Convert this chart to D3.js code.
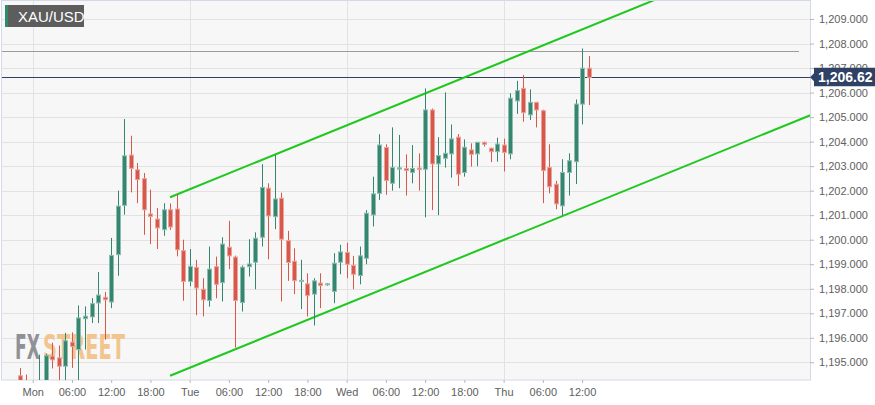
<!DOCTYPE html>
<html><head><meta charset="utf-8">
<script src="https://cdn.jsdelivr.net/npm/d3@7"></script>
<style>
body{margin:0;background:#fff;}
svg{display:block;font-family:Arial,"Liberation Sans",sans-serif;}
</style>
</head><body>
<svg id="chart" width="875" height="405"></svg>
<script>
// ---------- DATA (hours from Monday 00:00, hourly OHLC) ----------
const symbol = "XAU/USD";
const hours  = [-2,-1,1,2,3,4,5,6,7,8,9,10,11,12,13,14,15,16,17,18,19,20,21,22,23,24,25,26,27,28,29,30,31,32,33,34,35,36,37,38,39,40,41,42,43,44,45,46,47,48,49,50,51,52,53,54,55,56,57,58,59,60,61,62,63,64,65,66,67,68,69,70,71,72,73,74,75,76,77,78,79,80,81,82,83,84,85];
const opens  = [1194.45,1194.2,1193.8,1194.0,1195.25,1195.18,1194.84,1195.82,1195.52,1196.78,1196.85,1197.42,1197.65,1197.46,1199.39,1201.4,1203.45,1202.85,1202.49,1201.05,1200.84,1200.41,1201.22,1201.25,1199.55,1198.3,1198.87,1197.98,1197.52,1198.9,1198.25,1199.69,1199.29,1197.44,1198.9,1199.08,1200.1,1202.1,1200.94,1201.69,1199.96,1199.12,1198.3,1198.2,1197.78,1198.23,1198.17,1197.89,1199.08,1199.48,1198.95,1198.54,1199.24,1201.01,1201.89,1203.76,1202.3,1202.88,1202.9,1202.74,1202.92,1202.87,1205.29,1203.09,1203.32,1203.5,1204.18,1202.74,1203.66,1203.5,1203.97,1203.73,1203.59,1203.86,1203.5,1205.66,1206.17,1205.09,1205.6,1205.26,1202.94,1202.26,1201.38,1202.74,1203.18,1205.53,1206.99];
const highs  = [1194.77,1194.5,1195.31,1195.35,1195.8,1195.69,1196.2,1196.22,1197.32,1197.28,1197.62,1198.68,1197.87,1200.07,1202.0,1204.92,1204.24,1203.13,1202.72,1202.04,1201.29,1201.49,1201.48,1201.83,1200.0,1199.62,1199.18,1198.43,1199.72,1199.31,1200.1,1200.77,1199.35,1198.95,1200.02,1200.3,1203.08,1202.3,1203.46,1201.92,1200.36,1199.65,1199.18,1198.63,1198.43,1198.63,1198.23,1199.45,1199.79,1199.88,1199.34,1199.72,1201.21,1202.57,1204.3,1203.89,1204.58,1204.27,1203.48,1203.86,1203.52,1206.17,1205.35,1204.18,1206.01,1204.7,1204.31,1204.09,1203.93,1203.99,1204.0,1203.75,1204.16,1204.12,1205.97,1206.48,1206.72,1206.13,1205.62,1205.3,1203.89,1202.4,1203.28,1203.52,1205.72,1207.8,1207.49];
const lows   = [1193.9,1193.6,1193.5,1193.9,1194.75,1194.1,1194.1,1194.77,1194.1,1195.52,1196.6,1196.6,1195.92,1197.21,1198.53,1201.02,1201.93,1201.49,1200.2,1199.82,1199.62,1200.16,1200.4,1199.32,1197.51,1198.1,1196.92,1196.87,1197.27,1197.61,1197.48,1198.8,1195.6,1197.07,1198.5,1197.98,1199.72,1199.2,1200.43,1197.48,1198.32,1197.78,1197.17,1196.87,1196.5,1197.21,1198.12,1197.41,1198.59,1198.43,1197.98,1198.18,1199.0,1200.54,1201.62,1201.83,1202.0,1202.1,1201.8,1202.3,1202.0,1200.91,1201.21,1201.0,1202.94,1202.53,1202.19,1202.57,1202.98,1203.0,1203.8,1203.16,1203.18,1202.78,1203.28,1205.13,1204.81,1204.88,1204.58,1201.49,1201.89,1201.24,1200.98,1201.8,1202.27,1204.7,1205.49];
const closes = [1194.1,1193.9,1194.2,1195.27,1195.1,1194.84,1195.88,1195.65,1196.81,1196.88,1197.39,1197.74,1197.55,1199.36,1201.37,1203.42,1202.91,1202.45,1201.22,1200.95,1200.48,1201.22,1200.52,1199.59,1198.3,1198.91,1198.03,1197.55,1198.8,1198.18,1199.82,1199.34,1197.52,1198.88,1199.01,1200.06,1202.13,1200.97,1201.66,1200.02,1199.07,1198.33,1198.34,1197.72,1198.32,1198.13,1198.2,1199.04,1199.5,1199.0,1198.59,1199.34,1201.08,1201.87,1203.86,1202.41,1202.94,1202.93,1202.82,1202.9,1202.86,1205.29,1203.09,1203.43,1203.52,1204.11,1202.67,1203.77,1203.48,1203.97,1203.89,1203.59,1203.9,1203.56,1205.77,1206.08,1205.18,1205.6,1205.29,1202.82,1202.16,1201.46,1202.74,1203.22,1205.53,1206.99,1206.62];

// trend channel: [startHour, startPrice, endHour, endPrice]
const upperTrend = [21, 1201.73, 100, 1210.31];
const lowerTrend = [21, 1194.45, 125, 1205.74];
const lastPrice = 1206.62;
const sessionHigh = 1207.68;

const xTickHours  = [0,6,12,18,24,30,36,42,48,54,60,66,72,78,84];
const xTickLabels = ["Mon","06:00","12:00","18:00","Tue","06:00","12:00","18:00","Wed","06:00","12:00","18:00","Thu","06:00","12:00"];
const yTicks = [1195,1196,1197,1198,1199,1200,1201,1202,1203,1204,1205,1206,1207,1208,1209];
const dayStartHours = [0,24,48,72];

// ---------- LAYOUT ----------
const base = Date.UTC(2018, 11, 3); // a Monday
const toDate = h => new Date(base + h * 3600e3);
const L = 1, R = 810, T = 1, B = 380;

const svg = d3.select("#chart");
const x = d3.scaleUtc().domain([toDate(-4.85), toDate(118.85)]).range([L, R]);
const y = d3.scaleLinear().domain([1194.278, 1209.734]).range([B, T]);

const TEAL = "#34866f", RED = "#d7584a";

svg.append("rect").attr("width", 875).attr("height", 405).attr("fill", "#fff");
svg.append("rect").attr("x", L + 0.5).attr("y", T - 0.5).attr("width", R - L).attr("height", B - T + 0.5)
  .attr("fill", "#f7f7f7").attr("stroke", "#d3d9e8").attr("stroke-width", 1);

svg.append("defs").append("clipPath").attr("id", "plot")
  .append("rect").attr("x", L + 1).attr("y", T).attr("width", R - L - 1).attr("height", B - T);

const g = svg.append("g").attr("clip-path", "url(#plot)");

// grid
g.selectAll(".hg").data(yTicks).join("line")
  .attr("x1", L).attr("x2", R)
  .attr("y1", d => Math.round(y(d)) + 0.5).attr("y2", d => Math.round(y(d)) + 0.5)
  .attr("stroke", "#e2e2e2");
g.selectAll(".vg").data(dayStartHours).join("line")
  .attr("x1", d => Math.round(x(toDate(d))) + 0.5).attr("x2", d => Math.round(x(toDate(d))) + 0.5)
  .attr("y1", T).attr("y2", B).attr("stroke", "#e2e2e2");

// watermark: each part scaled to its measured width
const wmFont = "'Liberation Sans Narrow','Arial Narrow','DejaVu Sans Condensed',sans-serif";
[["FX", 15, 25, "#8f9197"], ["STREET", 43, 82, "#f3c58e"]].forEach(([txt, x0, w, col]) => {
  const t = g.append("text").attr("font-family", wmFont).attr("font-weight", "bold")
    .attr("font-size", 25).attr("fill", col).text(txt);
  const nat = t.node().getComputedTextLength() || w;
  t.attr("transform", `translate(${x0},359) scale(${w / nat},1.38)`);
});

// session high line and last price line
g.append("line").attr("x1", L + 1).attr("x2", 799)
  .attr("y1", Math.round(y(sessionHigh)) + 0.5).attr("y2", Math.round(y(sessionHigh)) + 0.5)
  .attr("stroke", "#9c9c9c");
g.append("line").attr("x1", L).attr("x2", R)
  .attr("y1", Math.round(y(lastPrice)) + 0.5).attr("y2", Math.round(y(lastPrice)) + 0.5)
  .attr("stroke", "#2f4165").attr("stroke-width", 1.2);

// trend channel
[upperTrend, lowerTrend].forEach(t => {
  g.append("line")
    .attr("x1", x(toDate(t[0]))).attr("y1", y(t[1]))
    .attr("x2", x(toDate(t[2]))).attr("y2", y(t[3]))
    .attr("stroke", "#1ec81e").attr("stroke-width", 2);
});

// candles
const candles = hours.map((h, i) => ({h, o: opens[i], hi: highs[i], lo: lows[i], c: closes[i]}));
const cg = g.selectAll(".candle").data(candles).join("g");
cg.append("line")
  .attr("x1", d => Math.round(x(toDate(d.h))) + 0.5)
  .attr("x2", d => Math.round(x(toDate(d.h))) + 0.5)
  .attr("y1", d => y(d.hi)).attr("y2", d => y(d.lo))
  .attr("stroke", d => d.c >= d.o ? TEAL : RED).attr("stroke-width", 1);
cg.append("rect")
  .attr("x", d => Math.round(x(toDate(d.h))) - 1.5)
  .attr("width", 4)
  .attr("y", d => y(Math.max(d.o, d.c)))
  .attr("height", d => Math.max(1, Math.abs(y(d.o) - y(d.c))))
  .attr("fill", d => d.c >= d.o ? TEAL : RED)
  .attr("stroke", d => d3.interpolateRgb(d.c >= d.o ? TEAL : RED, "#ffffff")(0.45))
  .attr("stroke-width", 1);

// y axis (right)
const yAxis = svg.append("g").attr("transform", `translate(${R},0)`)
  .call(d3.axisRight(y).tickValues(yTicks).tickFormat(d3.format(",.3f")).tickSize(4).tickPadding(5));
yAxis.select(".domain").remove();
yAxis.selectAll(".tick line").attr("stroke", "#b8b8b8");
yAxis.selectAll("text").attr("fill", "#606060").attr("font-size", 11).attr("font-family", "Arial,'Liberation Sans',sans-serif");

// x axis
const xAxis = svg.append("g").attr("transform", `translate(0,${B})`)
  .call(d3.axisBottom(x).tickValues(xTickHours.map(toDate))
    .tickFormat((d, i) => xTickLabels[i]).tickSize(3).tickPadding(5));
xAxis.select(".domain").remove();
xAxis.selectAll(".tick line").attr("stroke", "#b8b8b8");
xAxis.selectAll("text").attr("fill", "#606060").attr("font-size", 11).attr("font-family", "Arial,'Liberation Sans',sans-serif");

// last price label (covers the 1,207.000 tick label, as in the reference)
const ly = y(lastPrice);
svg.append("path")
  .attr("d", `M${R},${ly} L${R + 4},${ly - 4} L${R + 4},${ly - 9.5} L875,${ly - 9.5} L875,${ly + 9} L${R + 4},${ly + 9} L${R + 4},${ly + 4} Z`)
  .attr("fill", "#2f4165");
svg.append("text").attr("x", 818).attr("y", ly + 5)
  .attr("fill", "#fff").attr("font-weight", "bold").attr("font-size", 14)
  .text(d3.format(",.2f")(lastPrice));

// title
svg.append("rect").attr("x", 5).attr("y", 5).attr("width", 79).attr("height", 22).attr("fill", "#5d5d5d");
svg.append("rect").attr("x", 5).attr("y", 5).attr("width", 3).attr("height", 22).attr("fill", "#2f8a6c");
svg.append("text").attr("x", 18).attr("y", 22).attr("fill", "#fff").attr("font-size", 15).text(symbol);
</script>
</body></html>
